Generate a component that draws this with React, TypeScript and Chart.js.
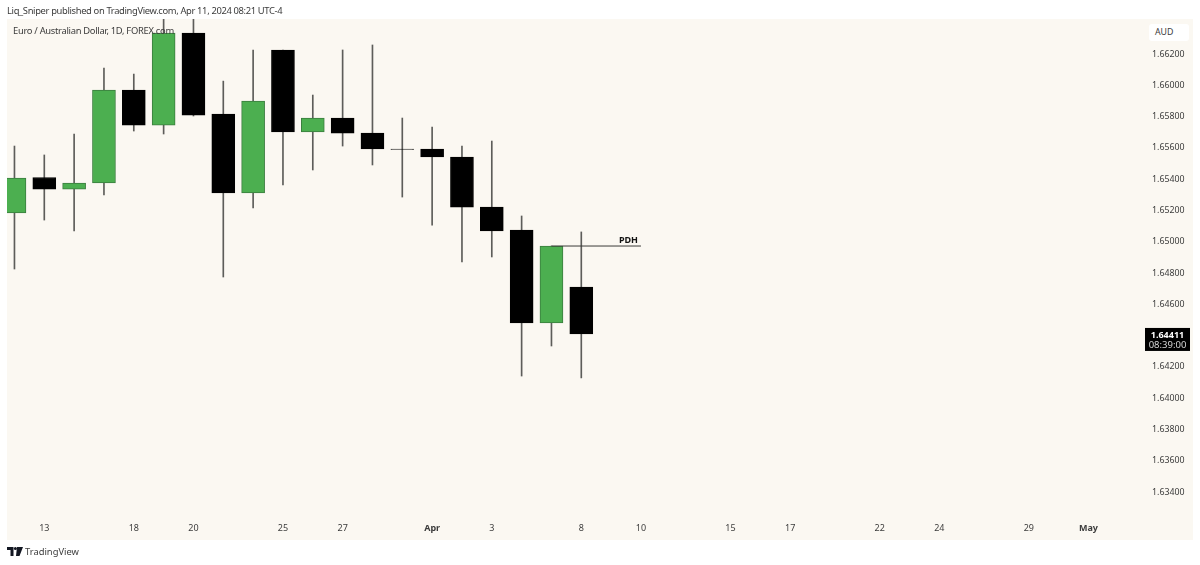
import React, { useEffect, useRef } from 'react'
import { Chart, registerables } from "chart.js";

Chart.register(...registerables);

const opens = [1.65184, 1.65411, 1.65337, 1.65376, 1.6597, 1.65746, 1.66334, 1.65817, 1.65312, 1.66226, 1.65702, 1.65791, 1.65695, 1.65593, 1.65593, 1.65542, 1.65222, 1.65075, 1.64481, 1.64711];
const highs = [1.65612, 1.65555, 1.65689, 1.66111, 1.66072, 1.66425, 1.66424, 1.66027, 1.66226, 1.66226, 1.65938, 1.66226, 1.66258, 1.65791, 1.65734, 1.65612, 1.65644, 1.65165, 1.64973, 1.65063];
const lows = [1.64826, 1.65139, 1.65069, 1.65299, 1.65708, 1.65689, 1.65804, 1.64775, 1.65216, 1.65363, 1.65459, 1.65612, 1.65491, 1.65286, 1.65107, 1.64871, 1.64903, 1.64142, 1.64334, 1.6413];
const closes = [1.65408, 1.65337, 1.65376, 1.6597, 1.65746, 1.66334, 1.6581, 1.65312, 1.659, 1.65702, 1.65791, 1.65695, 1.65593, 1.6559, 1.65542, 1.65222, 1.65069, 1.64481, 1.64973, 1.64411];

const priceTicks = [1.662, 1.66, 1.658, 1.656, 1.654, 1.652, 1.65, 1.648, 1.646, 1.642, 1.64, 1.638, 1.636, 1.634];
const dateTickIndexes = [1, 4, 6, 9, 11, 14, 16, 19, 21, 24, 26, 29, 31, 34, 36];
const dateTickLabels = ["13", "18", "20", "25", "27", "Apr", "3", "8", "10", "15", "17", "22", "24", "29", "May"];
const boldDates = ["Apr", "May"];

const pdhLevel = 1.64973;
const pdhStart = 18;
const pdhEnd = 21;
const lastPrice = 1.64411;
const countdown = "08:39:00";

const UP = "#4caf50";
const UP_BORDER = "#3a7d3e";
const DOWN = "#000000";
const WICK = "#5d5d5a";
const PANEL = "#fbf8f2";
const FONT = "'Noto Sans', sans-serif";

const panelPlugin = {
    id: "panel",
    beforeDraw(chart: any) {
        const { ctx, chartArea, scales } = chart;
        ctx.save();
        ctx.fillStyle = PANEL;
        ctx.fillRect(chartArea.left, chartArea.top, scales.y.right - chartArea.left, scales.x.bottom - chartArea.top);
        ctx.restore();
    },
};

const notesPlugin = {
    id: "notes",
    afterDraw(chart: any) {
        const { ctx, chartArea, scales } = chart;

        // PDH label sits just above the end of the level line
        ctx.save();
        ctx.fillStyle = "#131313";
        ctx.font = `bold 9px ${FONT}`;
        ctx.textAlign = "right";
        ctx.textBaseline = "alphabetic";
        ctx.fillText("PDH", scales.x.getPixelForValue(pdhEnd) - 3, scales.y.getPixelForValue(pdhLevel) - 3);

        // last price tag on the axis
        const y = scales.y.getPixelForValue(lastPrice);
        ctx.fillStyle = "#000000";
        ctx.fillRect(chartArea.right, y - 6, 45, 23);
        ctx.textAlign = "center";
        ctx.textBaseline = "middle";
        ctx.fillStyle = "#ffffff";
        ctx.font = `bold 9px ${FONT}`;
        ctx.fillText(lastPrice.toFixed(5), chartArea.right + 22.5, y + 1);
        ctx.fillStyle = "#d6d6d6";
        ctx.font = `9.5px ${FONT}`;
        ctx.fillText(countdown, chartArea.right + 22.5, y + 11);
        ctx.restore();
    },
};

const App: React.FC = () => {
    const chartRef = useRef<HTMLCanvasElement | null>(null);

    useEffect(() => {
        const ctx = chartRef.current?.getContext("2d");
        if (!ctx) return;

        const colors = closes.map((c, i) => (c > opens[i] ? UP : DOWN));
        const borders = closes.map((c, i) => (c > opens[i] ? UP_BORDER : DOWN));

        const chart = new Chart(ctx, {
            type: "bar",
            data: {
                datasets: [
                    {
                        type: "line",
                        data: [
                            { x: pdhStart, y: pdhLevel },
                            { x: pdhEnd, y: pdhLevel },
                        ],
                        borderColor: "#3a3a38",
                        borderWidth: 1,
                        pointRadius: 0,
                        order: 0,
                    },
                    {
                        data: opens.map((o, i) => ({ x: i, y: [o, closes[i]] })),
                        backgroundColor: colors,
                        borderColor: borders,
                        borderWidth: 1,
                        borderSkipped: false,
                        barThickness: 23,
                        grouped: false,
                        order: 1,
                    },
                    {
                        data: lows.map((l, i) => ({ x: i, y: [l, highs[i]] })),
                        backgroundColor: WICK,
                        barThickness: 1,
                        grouped: false,
                        order: 2,
                    },
                ] as any,
            },
            options: {
                responsive: false,
                animation: false,
                layout: { padding: { left: 7, right: 7, top: 19, bottom: 25 } },
                plugins: {
                    legend: { display: false },
                    tooltip: { enabled: false },
                },
                scales: {
                    x: {
                        type: "linear",
                        offset: false,
                        min: -0.25,
                        max: 37.895,
                        afterBuildTicks: (scale: any) => {
                            scale.ticks = dateTickIndexes.map((value) => ({ value }));
                        },
                        afterFit: (scale: any) => {
                            scale.height = 28;
                        },
                        grid: { display: false, drawTicks: false, offset: false },
                        border: { display: false },
                        ticks: {
                            autoSkip: false,
                            maxRotation: 0,
                            padding: 11.5,
                            color: "#3c3c3c",
                            font: (c: any) => ({
                                family: FONT,
                                size: 9,
                                weight: boldDates.includes(dateTickLabels[c.index]) ? "bold" : "normal",
                            }),
                            callback: (value: any) => dateTickLabels[dateTickIndexes.indexOf(Number(value))] ?? "",
                        },
                    },
                    y: {
                        position: "right",
                        min: 1.63273,
                        max: 1.66424,
                        afterBuildTicks: (scale: any) => {
                            scale.ticks = priceTicks.map((value) => ({ value }));
                        },
                        afterFit: (scale: any) => {
                            scale.width = 48;
                        },
                        grid: { display: false, drawTicks: false },
                        border: { display: false },
                        ticks: {
                            padding: 7,
                            color: "#3c3c3c",
                            font: { family: FONT, size: 8.8 },
                            callback: (value: any) => Number(value).toFixed(5),
                        },
                    },
                },
            } as any,
            plugins: [panelPlugin, notesPlugin],
        });

        return () => {
            chart.destroy();
        };
    }, []);

    return (
        <div style={{ position: "absolute", left: 0, top: 0, width: 1200, height: 565, background: "#ffffff", overflow: "hidden", fontFamily: FONT, color: "#3c3c3c" }}>
            <canvas ref={chartRef} width={1200} height={565} style={{ display: "block" }}></canvas>
            <div style={{ position: "absolute", left: 7, top: 3, fontSize: 9.4, letterSpacing: -0.35, lineHeight: "16px", whiteSpace: "nowrap" }}>
                Liq_Sniper published on TradingView.com, Apr 11, 2024 08:21 UTC-4
            </div>
            <div style={{ position: "absolute", left: 13, top: 23, fontSize: 9.4, letterSpacing: -0.3, lineHeight: "16px", whiteSpace: "nowrap" }}>
                Euro / Australian Dollar, 1D, FOREX.com
            </div>
            <div style={{ position: "absolute", left: 1149, top: 24, width: 40, height: 17, background: "#ffffff", borderRadius: 3, fontSize: 8.8, lineHeight: "17px", paddingLeft: 6, boxSizing: "border-box" }}>
                AUD
            </div>
            <svg style={{ position: "absolute", left: 7, top: 547 }} width="16" height="10" viewBox="0 0 16 10">
                <path d="M0 0H6.5V9H3.5V3H0Z M10 0H16L12.5 9H9Z" fill="#131722" />
                <circle cx="8.4" cy="1.6" r="1.5" fill="#131722" />
            </svg>
            <div style={{ position: "absolute", left: 25, top: 544, fontSize: 9.4, lineHeight: "16px", whiteSpace: "nowrap" }}>
                TradingView
            </div>
        </div>
    );
}

export default App
